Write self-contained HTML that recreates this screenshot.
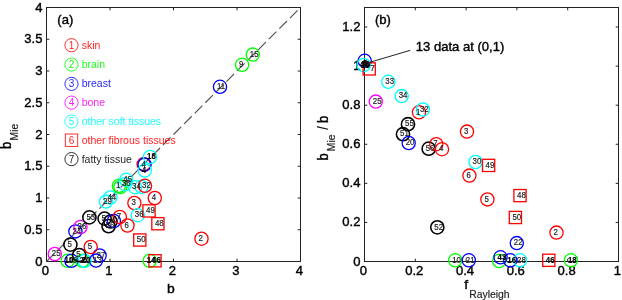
<!DOCTYPE html>
<html><head><meta charset="utf-8"><title>Figure</title>
<style>
html,body{margin:0;padding:0;background:#fff;}
body{width:622px;height:300px;overflow:hidden;}
svg{display:block;font-family:"Liberation Sans",sans-serif;}
.tk{font-size:12.2px;fill:#000;stroke:#000;stroke-width:0.38px;}
.sb{font-size:10.4px;fill:#222;stroke:#222;stroke-width:0.15px;}
.ml{font-size:8.3px;fill:#222;stroke:#222;stroke-width:0.18px;}
.lg{font-size:10.5px;opacity:0.88;}
.ln{font-size:10px;text-anchor:middle;opacity:0.88;}
.ax{stroke:#222;stroke-width:1;fill:none;}
</style></head><body>
<svg width="622" height="300" viewBox="0 0 622 300">
<rect width="622" height="300" fill="#fff"/>

<rect x="46.5" y="7.5" width="254.0" height="254.0" class="ax"/>
<text transform="translate(42.40,265.50) scale(1.07,1)" text-anchor="end" class="tk">0</text>
<path d="M46.5 229.75h2.8M300.5 229.75h-2.8" class="ax"/>
<text transform="translate(42.40,233.75) scale(1.07,1)" text-anchor="end" class="tk">0.5</text>
<path d="M46.5 198.0h2.8M300.5 198.0h-2.8" class="ax"/>
<text transform="translate(42.40,202.00) scale(1.07,1)" text-anchor="end" class="tk">1</text>
<path d="M46.5 166.25h2.8M300.5 166.25h-2.8" class="ax"/>
<text transform="translate(42.40,170.25) scale(1.07,1)" text-anchor="end" class="tk">1.5</text>
<path d="M46.5 134.5h2.8M300.5 134.5h-2.8" class="ax"/>
<text transform="translate(42.40,138.50) scale(1.07,1)" text-anchor="end" class="tk">2</text>
<path d="M46.5 102.75h2.8M300.5 102.75h-2.8" class="ax"/>
<text transform="translate(42.40,106.75) scale(1.07,1)" text-anchor="end" class="tk">2.5</text>
<path d="M46.5 71.0h2.8M300.5 71.0h-2.8" class="ax"/>
<text transform="translate(42.40,75.00) scale(1.07,1)" text-anchor="end" class="tk">3</text>
<path d="M46.5 39.25h2.8M300.5 39.25h-2.8" class="ax"/>
<text transform="translate(42.40,43.25) scale(1.07,1)" text-anchor="end" class="tk">3.5</text>
<text transform="translate(42.40,11.50) scale(1.07,1)" text-anchor="end" class="tk">4</text>
<text transform="translate(45.40,275.20) scale(1.07,1)" text-anchor="middle" class="tk">0</text>
<path d="M110.0 261.5v-2.8M110.0 7.5v2.8" class="ax"/>
<text transform="translate(108.90,275.20) scale(1.07,1)" text-anchor="middle" class="tk">1</text>
<path d="M173.5 261.5v-2.8M173.5 7.5v2.8" class="ax"/>
<text transform="translate(172.40,275.20) scale(1.07,1)" text-anchor="middle" class="tk">2</text>
<path d="M237.0 261.5v-2.8M237.0 7.5v2.8" class="ax"/>
<text transform="translate(235.90,275.20) scale(1.07,1)" text-anchor="middle" class="tk">3</text>
<text transform="translate(299.40,275.20) scale(1.07,1)" text-anchor="middle" class="tk">4</text>
<path d="M46.5 261.5L300.5 7.5" stroke="#505050" stroke-width="1.15" stroke-dasharray="10.8 4.17" fill="none"/>
<text transform="translate(57.30,24.40) scale(1.07,1)" text-anchor="start" class="tk">(a)</text>
<circle cx="71.5" cy="45.2" r="6.6" fill="none" stroke="#ff0000" stroke-width="0.9" opacity="0.9"/>
<text x="71.6" y="48.6" class="ln" fill="#ff0000">1</text>
<text x="81.7" y="48.7" class="lg" fill="#ff0000">skin</text>
<circle cx="71.5" cy="64.6" r="6.6" fill="none" stroke="#00ff00" stroke-width="0.9" opacity="0.9"/>
<text x="71.6" y="68.0" class="ln" fill="#00ff00">2</text>
<text x="81.7" y="68.1" class="lg" fill="#00ff00">brain</text>
<circle cx="71.5" cy="83.9" r="6.6" fill="none" stroke="#0000ff" stroke-width="0.9" opacity="0.9"/>
<text x="71.6" y="87.3" class="ln" fill="#0000ff">3</text>
<text x="81.7" y="87.4" class="lg" fill="#0000ff">breast</text>
<circle cx="71.5" cy="102.6" r="6.6" fill="none" stroke="#ff00ff" stroke-width="0.9" opacity="0.9"/>
<text x="71.6" y="106.0" class="ln" fill="#ff00ff">4</text>
<text x="81.7" y="106.1" class="lg" fill="#ff00ff">bone</text>
<circle cx="71.5" cy="121.5" r="6.6" fill="none" stroke="#00ffff" stroke-width="0.9" opacity="0.9"/>
<text x="71.6" y="124.9" class="ln" fill="#00ffff">5</text>
<text x="81.7" y="125.0" class="lg" fill="#00ffff">other soft tissues</text>
<rect x="65.3" y="134.0" width="12.4" height="12.4" fill="none" stroke="#ff0000" stroke-width="0.9" opacity="0.9"/>
<text x="71.6" y="143.6" class="ln" fill="#ff0000">6</text>
<text x="81.7" y="143.7" class="lg" fill="#ff0000">other fibrous tissues</text>
<circle cx="71.5" cy="159.1" r="6.6" fill="none" stroke="#000000" stroke-width="0.9" opacity="0.9"/>
<text x="71.6" y="162.5" class="ln" fill="#000000">7</text>
<text x="81.7" y="162.6" class="lg" fill="#000000">fatty tissue</text>
<circle cx="67.6" cy="260.8" r="6.6" fill="none" stroke="#00ff00" stroke-width="1.3"/>
<circle cx="71.4" cy="260.8" r="6.6" fill="none" stroke="#0000ff" stroke-width="1.3"/>
<circle cx="82.4" cy="260.8" r="6.6" fill="none" stroke="#00ff00" stroke-width="1.3"/>
<circle cx="84.6" cy="260.9" r="6.6" fill="none" stroke="#00ffff" stroke-width="1.3"/>
<circle cx="96.0" cy="260.6" r="6.6" fill="none" stroke="#0000ff" stroke-width="1.3"/>
<circle cx="99.6" cy="255.5" r="6.6" fill="none" stroke="#0000ff" stroke-width="1.3"/>
<circle cx="79.2" cy="255.0" r="6.6" fill="none" stroke="#000000" stroke-width="1.55"/>
<circle cx="54.8" cy="254.0" r="6.6" fill="none" stroke="#ff00ff" stroke-width="1.3"/>
<circle cx="70.4" cy="244.6" r="6.6" fill="none" stroke="#000000" stroke-width="1.55"/>
<circle cx="90.7" cy="247.0" r="6.6" fill="none" stroke="#ff0000" stroke-width="1.3"/>
<circle cx="75.4" cy="231.4" r="6.6" fill="none" stroke="#0000ff" stroke-width="1.3"/>
<circle cx="80.5" cy="227.0" r="6.6" fill="none" stroke="#ff00ff" stroke-width="1.3"/>
<circle cx="89.4" cy="217.4" r="6.6" fill="none" stroke="#000000" stroke-width="1.55"/>
<circle cx="104.6" cy="218.6" r="6.6" fill="none" stroke="#000000" stroke-width="1.55"/>
<circle cx="108.6" cy="226.2" r="6.6" fill="none" stroke="#000000" stroke-width="1.55"/>
<circle cx="110.5" cy="221.5" r="6.6" fill="none" stroke="#000000" stroke-width="1.55"/>
<circle cx="113.9" cy="221.0" r="6.6" fill="none" stroke="#0000ff" stroke-width="1.3"/>
<circle cx="119.8" cy="217.0" r="6.6" fill="none" stroke="#ff0000" stroke-width="1.3"/>
<circle cx="127.5" cy="225.5" r="6.6" fill="none" stroke="#ff0000" stroke-width="1.3"/>
<circle cx="106.0" cy="201.6" r="6.6" fill="none" stroke="#00ffff" stroke-width="1.3"/>
<circle cx="110.4" cy="197.5" r="6.6" fill="none" stroke="#00ffff" stroke-width="1.3"/>
<circle cx="118.9" cy="185.8" r="6.6" fill="none" stroke="#00ff00" stroke-width="1.3"/>
<circle cx="120.4" cy="187.0" r="6.6" fill="none" stroke="#00ff00" stroke-width="1.3"/>
<circle cx="124.9" cy="184.2" r="6.6" fill="none" stroke="#00ffff" stroke-width="1.3"/>
<circle cx="126.3" cy="179.8" r="6.6" fill="none" stroke="#00ffff" stroke-width="1.3"/>
<circle cx="135.0" cy="187.2" r="6.6" fill="none" stroke="#00ffff" stroke-width="1.3"/>
<circle cx="141.6" cy="186.8" r="6.6" fill="none" stroke="#00ffff" stroke-width="1.3"/>
<circle cx="145.0" cy="185.8" r="6.6" fill="none" stroke="#ff0000" stroke-width="1.3"/>
<circle cx="134.4" cy="203.0" r="6.6" fill="none" stroke="#ff0000" stroke-width="1.3"/>
<circle cx="154.8" cy="198.0" r="6.6" fill="none" stroke="#ff0000" stroke-width="1.3"/>
<circle cx="137.8" cy="215.2" r="6.6" fill="none" stroke="#00ffff" stroke-width="1.3"/>
<rect x="142.90" y="204.80" width="12.2" height="12.2" fill="none" stroke="#ff0000" stroke-width="1.3"/>
<rect x="151.80" y="217.60" width="12.2" height="12.2" fill="none" stroke="#ff0000" stroke-width="1.3"/>
<rect x="133.70" y="233.90" width="12.2" height="12.2" fill="none" stroke="#ff0000" stroke-width="1.3"/>
<circle cx="201.5" cy="238.7" r="6.6" fill="none" stroke="#ff0000" stroke-width="1.3"/>
<circle cx="149.7" cy="260.8" r="6.6" fill="none" stroke="#00ff00" stroke-width="1.3"/>
<rect x="148.90" y="254.70" width="12.2" height="12.2" fill="none" stroke="#ff0000" stroke-width="1.3"/>
<circle cx="143.6" cy="164.3" r="6.6" fill="none" stroke="#ff0000" stroke-width="1.3"/>
<circle cx="144.6" cy="164.6" r="6.6" fill="none" stroke="#0000ff" stroke-width="1.3"/>
<circle cx="144.8" cy="170.6" r="6.6" fill="none" stroke="#00ffff" stroke-width="1.3"/>
<circle cx="150.0" cy="157.0" r="6.6" fill="none" stroke="#00ffff" stroke-width="1.3"/>
<circle cx="220.0" cy="86.8" r="6.6" fill="none" stroke="#0000ff" stroke-width="1.3"/>
<circle cx="242.1" cy="64.8" r="6.6" fill="none" stroke="#00ff00" stroke-width="1.3"/>
<circle cx="252.8" cy="54.6" r="6.6" fill="none" stroke="#00ff00" stroke-width="1.3"/>
<text transform="translate(64.6,263.0) scale(0.95,1)" class="ml" style="font-weight:bold;fill:#000">10</text>
<text transform="translate(68.4,263.0) scale(0.95,1)" class="ml">19</text>
<text transform="translate(79.4,263.0) scale(0.95,1)" class="ml">21</text>
<text transform="translate(81.6,263.1) scale(0.95,1)" class="ml" style="font-weight:bold;fill:#000">20</text>
<text transform="translate(93.0,262.8) scale(0.95,1)" class="ml">13</text>
<text transform="translate(96.6,257.7) scale(0.95,1)" class="ml">27</text>
<text transform="translate(76.2,257.2) scale(0.95,1)" class="ml">5</text>
<text transform="translate(51.8,256.2) scale(0.95,1)" class="ml">25</text>
<text transform="translate(67.4,246.8) scale(0.95,1)" class="ml">5</text>
<text transform="translate(87.7,249.2) scale(0.95,1)" class="ml">5</text>
<text transform="translate(72.4,233.6) scale(0.95,1)" class="ml">24</text>
<text transform="translate(77.5,229.2) scale(0.95,1)" class="ml">26</text>
<text transform="translate(86.4,219.6) scale(0.95,1)" class="ml">53</text>
<text transform="translate(101.6,220.8) scale(0.95,1)" class="ml">5</text>
<text transform="translate(105.6,228.4) scale(0.95,1)" class="ml">56</text>

<text transform="translate(110.9,223.2) scale(0.95,1)" class="ml">4</text>
<text transform="translate(116.8,219.2) scale(0.95,1)" class="ml">7</text>
<text transform="translate(124.5,227.7) scale(0.95,1)" class="ml">6</text>
<text transform="translate(103.0,203.8) scale(0.95,1)" class="ml">29</text>
<text transform="translate(107.4,199.7) scale(0.95,1)" class="ml">44</text>
<text transform="translate(115.9,188.0) scale(0.95,1)" class="ml">1</text>

<text transform="translate(121.9,186.4) scale(0.95,1)" class="ml">36</text>
<text transform="translate(123.3,182.0) scale(0.95,1)" class="ml">45</text>
<text transform="translate(132.0,189.4) scale(0.95,1)" class="ml">34</text>

<text transform="translate(142.0,188.0) scale(0.95,1)" class="ml">32</text>
<text transform="translate(131.4,205.2) scale(0.95,1)" class="ml">3</text>
<text transform="translate(151.8,200.2) scale(0.95,1)" class="ml">4</text>
<text transform="translate(134.8,217.4) scale(0.95,1)" class="ml">36</text>
<text transform="translate(146.0,213.1) scale(0.95,1)" class="ml">49</text>
<text transform="translate(154.9,225.9) scale(0.95,1)" class="ml">48</text>
<text transform="translate(136.8,242.2) scale(0.95,1)" class="ml">50</text>
<text transform="translate(198.5,240.9) scale(0.95,1)" class="ml">2</text>
<text transform="translate(146.7,263.0) scale(0.95,1)" class="ml" style="font-weight:bold;fill:#000">14</text>
<text transform="translate(152.0,263.0) scale(0.95,1)" class="ml" style="font-weight:bold;fill:#000">46</text>

<text transform="translate(141.6,166.8) scale(0.95,1)" class="ml">4</text>
<text transform="translate(141.8,172.8) scale(0.95,1)" class="ml" style="font-weight:bold;fill:#000">4</text>
<text transform="translate(147.0,159.2) scale(0.95,1)" class="ml" style="font-weight:bold;fill:#000">18</text>
<text transform="translate(217.0,89.0) scale(0.95,1)" class="ml">11</text>
<text transform="translate(239.1,67.0) scale(0.95,1)" class="ml">9</text>
<text transform="translate(249.8,56.8) scale(0.95,1)" class="ml">15</text>
<text transform="translate(170.80,292.80) scale(1.07,1)" text-anchor="middle" class="tk" style="font-size:13px">b</text>
<text transform="translate(11.00,148.90) rotate(-90) scale(0.93,1)" text-anchor="start" class="tk" style="font-size:14px">b</text>
<text transform="translate(18.00,140.50) rotate(-90) scale(1,1)" text-anchor="start" class="sb">Mie</text>
<rect x="364.5" y="7.5" width="254.0" height="254.0" class="ax"/>
<text transform="translate(360.40,265.50) scale(1.07,1)" text-anchor="end" class="tk">0</text>
<path d="M364.5 222.42h2.8M618.5 222.42h-2.8" class="ax"/>
<text transform="translate(360.40,226.42) scale(1.07,1)" text-anchor="end" class="tk">0.2</text>
<path d="M364.5 183.35h2.8M618.5 183.35h-2.8" class="ax"/>
<text transform="translate(360.40,187.35) scale(1.07,1)" text-anchor="end" class="tk">0.4</text>
<path d="M364.5 144.27h2.8M618.5 144.27h-2.8" class="ax"/>
<text transform="translate(360.40,148.27) scale(1.07,1)" text-anchor="end" class="tk">0.6</text>
<path d="M364.5 105.19h2.8M618.5 105.19h-2.8" class="ax"/>
<text transform="translate(360.40,109.19) scale(1.07,1)" text-anchor="end" class="tk">0.8</text>
<path d="M364.5 66.12h2.8M618.5 66.12h-2.8" class="ax"/>
<text transform="translate(360.40,70.12) scale(1.07,1)" text-anchor="end" class="tk">1</text>
<path d="M364.5 27.04h2.8M618.5 27.04h-2.8" class="ax"/>
<text transform="translate(360.40,31.04) scale(1.07,1)" text-anchor="end" class="tk">1.2</text>
<text transform="translate(363.40,275.20) scale(1.07,1)" text-anchor="middle" class="tk">0</text>
<path d="M415.30 261.5v-2.8M415.30 7.5v2.8" class="ax"/>
<text transform="translate(414.20,275.20) scale(1.07,1)" text-anchor="middle" class="tk">0.2</text>
<path d="M466.10 261.5v-2.8M466.10 7.5v2.8" class="ax"/>
<text transform="translate(465.00,275.20) scale(1.07,1)" text-anchor="middle" class="tk">0.4</text>
<path d="M516.90 261.5v-2.8M516.90 7.5v2.8" class="ax"/>
<text transform="translate(515.80,275.20) scale(1.07,1)" text-anchor="middle" class="tk">0.6</text>
<path d="M567.70 261.5v-2.8M567.70 7.5v2.8" class="ax"/>
<text transform="translate(566.60,275.20) scale(1.07,1)" text-anchor="middle" class="tk">0.8</text>
<text transform="translate(617.40,275.20) scale(1.07,1)" text-anchor="middle" class="tk">1</text>
<text transform="translate(375.00,24.40) scale(1.07,1)" text-anchor="start" class="tk">(b)</text>
<circle cx="364.7" cy="60.8" r="6.6" fill="none" stroke="#0000ff" stroke-width="1.3"/>
<circle cx="363.7" cy="65.0" r="6.6" fill="none" stroke="#00ffff" stroke-width="1.3"/>
<rect x="363.10" y="62.80" width="12.2" height="12.2" fill="none" stroke="#ff0000" stroke-width="1.3"/>
<circle cx="388.3" cy="81.8" r="6.6" fill="none" stroke="#00ffff" stroke-width="1.3"/>
<circle cx="401.7" cy="96.1" r="6.6" fill="none" stroke="#00ffff" stroke-width="1.3"/>
<circle cx="375.8" cy="101.6" r="6.6" fill="none" stroke="#ff00ff" stroke-width="1.3"/>
<circle cx="419.0" cy="112.3" r="6.6" fill="none" stroke="#ff0000" stroke-width="1.3"/>
<circle cx="422.9" cy="109.5" r="6.6" fill="none" stroke="#00ffff" stroke-width="1.3"/>
<circle cx="408.0" cy="124.2" r="6.6" fill="none" stroke="#000000" stroke-width="1.55"/>
<circle cx="403.0" cy="134.2" r="6.6" fill="none" stroke="#000000" stroke-width="1.55"/>
<circle cx="408.7" cy="143.0" r="6.6" fill="none" stroke="#0000ff" stroke-width="1.3"/>
<circle cx="428.7" cy="148.7" r="6.6" fill="none" stroke="#000000" stroke-width="1.55"/>
<circle cx="436.3" cy="144.2" r="6.6" fill="none" stroke="#ff0000" stroke-width="1.3"/>
<circle cx="442.0" cy="149.2" r="6.6" fill="none" stroke="#ff0000" stroke-width="1.3"/>
<circle cx="467.0" cy="131.6" r="6.6" fill="none" stroke="#ff0000" stroke-width="1.3"/>
<circle cx="475.6" cy="162.0" r="6.6" fill="none" stroke="#00ffff" stroke-width="1.3"/>
<rect x="482.50" y="159.30" width="12.2" height="12.2" fill="none" stroke="#ff0000" stroke-width="1.3"/>
<circle cx="469.4" cy="175.6" r="6.6" fill="none" stroke="#ff0000" stroke-width="1.3"/>
<circle cx="487.4" cy="199.4" r="6.6" fill="none" stroke="#ff0000" stroke-width="1.3"/>
<rect x="513.90" y="189.50" width="12.2" height="12.2" fill="none" stroke="#ff0000" stroke-width="1.3"/>
<rect x="509.30" y="211.40" width="12.2" height="12.2" fill="none" stroke="#ff0000" stroke-width="1.3"/>
<circle cx="556.5" cy="232.6" r="6.6" fill="none" stroke="#ff0000" stroke-width="1.3"/>
<circle cx="516.8" cy="243.1" r="6.6" fill="none" stroke="#0000ff" stroke-width="1.3"/>
<circle cx="499.1" cy="261.0" r="6.6" fill="none" stroke="#00ff00" stroke-width="1.3"/>
<circle cx="500.5" cy="257.3" r="6.6" fill="none" stroke="#0000ff" stroke-width="1.3"/>
<circle cx="510.3" cy="260.3" r="6.6" fill="none" stroke="#0000ff" stroke-width="1.3"/>
<circle cx="520.1" cy="260.3" r="6.6" fill="none" stroke="#00ffff" stroke-width="1.3"/>
<rect x="542.70" y="254.20" width="12.2" height="12.2" fill="none" stroke="#ff0000" stroke-width="1.3"/>
<circle cx="570.9" cy="260.3" r="6.6" fill="none" stroke="#00ff00" stroke-width="1.3"/>
<circle cx="437.3" cy="227.3" r="6.6" fill="none" stroke="#000000" stroke-width="1.55"/>
<circle cx="455.2" cy="260.3" r="6.6" fill="none" stroke="#00ff00" stroke-width="1.3"/>
<circle cx="468.8" cy="260.3" r="6.6" fill="none" stroke="#0000ff" stroke-width="1.3"/>

<text transform="translate(360.7,67.2) scale(0.95,1)" class="ml">14</text>

<text transform="translate(385.3,84.0) scale(0.95,1)" class="ml">33</text>
<text transform="translate(398.7,98.3) scale(0.95,1)" class="ml">34</text>
<text transform="translate(372.8,103.8) scale(0.95,1)" class="ml">25</text>
<text transform="translate(416.0,114.5) scale(0.95,1)" class="ml">1</text>
<text transform="translate(419.9,111.7) scale(0.95,1)" class="ml">32</text>
<text transform="translate(405.0,126.4) scale(0.95,1)" class="ml">55</text>
<text transform="translate(400.0,136.4) scale(0.95,1)" class="ml">51</text>
<text transform="translate(405.7,145.2) scale(0.95,1)" class="ml">20</text>
<text transform="translate(425.7,150.9) scale(0.95,1)" class="ml">56</text>
<text transform="translate(433.3,146.4) scale(0.95,1)" class="ml">7</text>
<text transform="translate(439.0,151.4) scale(0.95,1)" class="ml">4</text>
<text transform="translate(464.0,133.8) scale(0.95,1)" class="ml">3</text>
<text transform="translate(472.6,164.2) scale(0.95,1)" class="ml">30</text>
<text transform="translate(485.6,167.6) scale(0.95,1)" class="ml">49</text>
<text transform="translate(466.4,177.8) scale(0.95,1)" class="ml">6</text>
<text transform="translate(484.4,201.6) scale(0.95,1)" class="ml">5</text>
<text transform="translate(517.0,197.8) scale(0.95,1)" class="ml">48</text>
<text transform="translate(512.4,219.7) scale(0.95,1)" class="ml">50</text>
<text transform="translate(553.5,234.8) scale(0.95,1)" class="ml">2</text>
<text transform="translate(513.8,245.3) scale(0.95,1)" class="ml">22</text>

<text transform="translate(497.5,259.5) scale(0.95,1)" class="ml" style="font-weight:bold;fill:#000">43</text>
<text transform="translate(507.3,262.5) scale(0.95,1)" class="ml" style="font-weight:bold;fill:#000">16</text>
<text transform="translate(517.1,262.5) scale(0.95,1)" class="ml">28</text>
<text transform="translate(545.8,262.5) scale(0.95,1)" class="ml" style="font-weight:bold;fill:#000">46</text>
<text transform="translate(567.9,262.5) scale(0.95,1)" class="ml" style="font-weight:bold;fill:#000">18</text>
<text transform="translate(434.3,229.5) scale(0.95,1)" class="ml">52</text>
<text transform="translate(452.2,262.5) scale(0.95,1)" class="ml">10</text>
<text transform="translate(465.8,262.5) scale(0.95,1)" class="ml">21</text>
<text x="365.4" y="68.2" class="ml" style="font-weight:bold;fill:#000;text-anchor:middle">19</text>
<text x="364.6" y="67.2" class="ml" style="font-weight:bold;fill:#000;text-anchor:middle">48</text>
<text x="365.0" y="66.2" class="ml" style="font-weight:bold;fill:#000;text-anchor:middle">8</text>
<text x="370.3" y="71.2" class="ml">7</text>
<path d="M366.8 63.2L410.3 50.3" stroke="#222" stroke-width="1" fill="none"/>
<text transform="translate(415.80,50.50) scale(1.07,1)" text-anchor="start" class="tk">13 data at (0,1)</text>
<text transform="translate(464.30,289.40) scale(1.07,1)" text-anchor="start" class="tk" style="font-size:13px">f</text>
<text transform="translate(469.20,297.60) scale(1,1)" text-anchor="start" class="sb">Rayleigh</text>
<text transform="translate(328.20,160.50) rotate(-90) scale(0.93,1)" text-anchor="start" class="tk" style="font-size:14px">b</text>
<text transform="translate(335.20,151.20) rotate(-90) scale(1,1)" text-anchor="start" class="sb">Mie</text>
<text transform="translate(328.20,129.80) rotate(-90) scale(0.93,1)" text-anchor="start" class="tk" style="font-size:14px;stroke-width:0.1px">/</text>
<text transform="translate(328.20,123.00) rotate(-90) scale(0.93,1)" text-anchor="start" class="tk" style="font-size:14px">b</text>
</svg></body></html>
